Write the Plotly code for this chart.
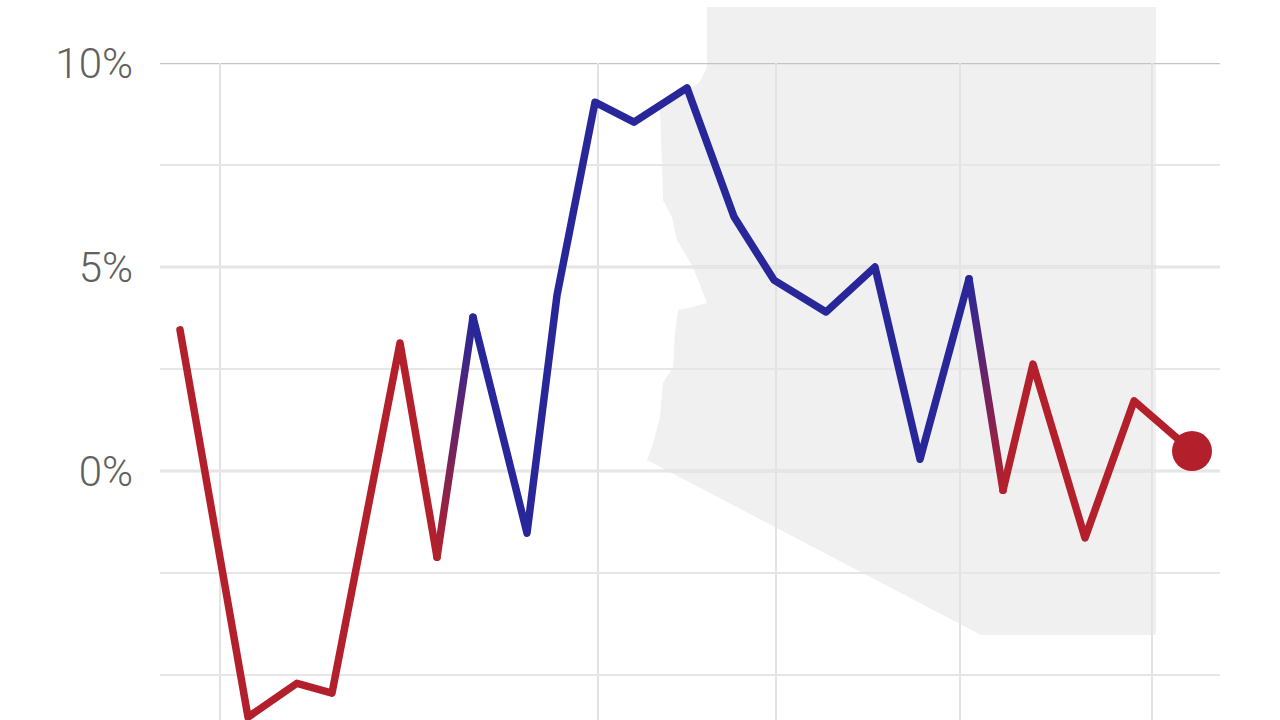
import plotly.graph_objects as go

# point positions (horizontal units = screen px of the reference)
x_pos = [180, 248, 297, 332, 400, 437, 473, 527, 557, 595, 634, 687,
         734, 774, 826, 875, 920, 969, 1003, 1033, 1085, 1134, 1192]
margin_pct = [3.46, -6.03, -5.20, -5.44, 3.14, -2.11, 3.77, -1.52, 4.31, 9.04, 8.55, 9.39,
              6.23, 4.68, 3.90, 5.00, 0.29, 4.71, -0.47, 2.62, -1.64, 1.72, 0.49]

# where the colour flips
red_end = 5      # last red point of the first run
blue_end = 17    # last blue point

y_ticks = [-5, -2.5, 0, 2.5, 5, 7.5, 10]
y_labels = ['', '', '0%', '', '5%', '', '10%']
x_grid = [220, 598, 776, 960, 1152]

RED = '#b3202c'
BLUE = '#27279a'
PURPLE = '#6a2466'

# state outline (background decoration), in screen px
state_px = [(707, 7), (1156, 7), (1156, 635), (981, 635), (647, 460), (652, 447),
            (660, 417), (663, 383), (673, 367), (675, 333), (678, 310), (693, 307),
            (707, 303), (703, 293), (693, 267), (677, 240), (672, 217), (663, 200),
            (662, 167), (660, 110), (672, 100), (700, 82), (707, 67)]

L, R, T, B = 160, 60, 63, 0
W, H = 1280, 720


def to_paper(px, py):
    return (px - L) / (W - L - R), (H - py) / (H - T - B)


path = ''
for i, (px, py) in enumerate(state_px):
    xp, yp = to_paper(px, py)
    path += ('M' if i == 0 else 'L') + f'{xp:.4f},{yp:.4f} '
path += 'Z'


def seg(a, b, color):
    return go.Scatter(x=x_pos[a:b + 1], y=margin_pct[a:b + 1], mode='lines',
                      line=dict(color=color, width=7.5), hoverinfo='skip')


fig = go.Figure()
fig.add_trace(seg(0, red_end, RED))
fig.add_trace(seg(red_end, red_end + 1, PURPLE))
fig.add_trace(seg(red_end + 1, blue_end, BLUE))
fig.add_trace(seg(blue_end, blue_end + 1, PURPLE))
fig.add_trace(seg(blue_end + 1, len(x_pos) - 1, RED))
fig.add_trace(go.Scatter(x=[x_pos[-1]], y=[margin_pct[-1]], mode='markers',
                         marker=dict(color=RED, size=40), hoverinfo='skip'))

shapes = [dict(type='path', path=path, xref='paper', yref='paper',
               fillcolor='#f0f0f0', line=dict(width=0), layer='below')]
for v in [0, 5, 10]:
    shapes.append(dict(type='line', xref='paper', x0=0, x1=1, yref='y', y0=v, y1=v,
                       line=dict(color='#c4c4c4', width=2.5), layer='between'))

fig.update_layout(
    width=W, height=H,
    margin=dict(l=L, r=R, t=T, b=B),
    paper_bgcolor='white',
    plot_bgcolor='rgba(0,0,0,0)',
    showlegend=False,
    font=dict(family='Roboto, sans-serif'),
    shapes=shapes,
    xaxis=dict(range=[160, 1220], tickvals=x_grid, showticklabels=False,
               showgrid=True, gridcolor='#e3e3e3', gridwidth=1.5,
               zeroline=False, showline=False, ticks=''),
    yaxis=dict(range=[-6.1, 10], tickvals=y_ticks, ticktext=y_labels,
               showgrid=True, gridcolor='#e6e6e6', gridwidth=1.5,
               zeroline=False, showline=False, ticks='',
               ticklabelstandoff=26,
               tickfont=dict(size=42, color='#606060', family='Roboto, sans-serif',
                             weight=300)),
)

# body margin off, round joins, colour blend on the two crossover segments
post = """
document.body.style.margin = '0';
var gd = document.getElementById('{plot_id}');
var svg = gd.querySelector('svg.main-svg');
var defs = svg.querySelector('defs');
var NS = 'http://www.w3.org/2000/svg';
function mk(id, y1, y2, c1, c2) {
  var g = document.createElementNS(NS, 'linearGradient');
  g.setAttribute('id', id);
  g.setAttribute('x1', '0'); g.setAttribute('x2', '0');
  g.setAttribute('y1', y1); g.setAttribute('y2', y2);
  [[0, c1], [1, c2]].forEach(function(s) {
    var st = document.createElementNS(NS, 'stop');
    st.setAttribute('offset', s[0]);
    st.setAttribute('stop-color', s[1]);
    g.appendChild(st);
  });
  defs.appendChild(g);
}
mk('swapRB', '1', '0', '#b3202c', '#27279a');
mk('swapBR', '0', '1', '#27279a', '#b3202c');
var tr = gd.querySelectorAll('.scatterlayer .trace');
tr.forEach(function(t) {
  var p = t.querySelector('path.js-line');
  if (p) { p.style.strokeLinejoin = 'round'; p.style.strokeLinecap = 'round'; }
});
var p1 = tr[1].querySelector('path.js-line');
var p2 = tr[3].querySelector('path.js-line');
if (p1) p1.style.stroke = 'url(#swapRB)';
if (p2) p2.style.stroke = 'url(#swapBR)';
"""

fig.write_html("out.html", post_script=post, config={'displayModeBar': False})
